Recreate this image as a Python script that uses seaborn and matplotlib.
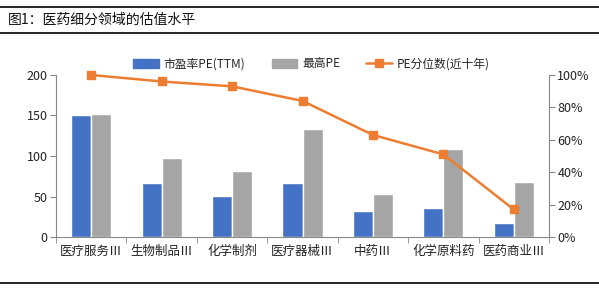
import numpy as np
import pandas as pd
import seaborn as sns
import matplotlib.pyplot as plt
from matplotlib.lines import Line2D
from matplotlib.ticker import PercentFormatter, FixedLocator

# 数据
categories = ['医疗服务Ⅲ', '生物制品Ⅲ', '化学制剂', '医疗器械Ⅲ', '中药Ⅲ', '化学原料药', '医药商业Ⅲ']
pe_ttm = [150, 67, 51, 67, 32, 36, 17]
pe_max = [152, 98, 82, 133, 53, 109, 68]
pe_pct = [100, 96, 93, 84, 63, 51, 17]
series_names = ['市盈率PE(TTM)', '最高PE']
line_name = 'PE分位数(近十年)'

sns.set_style('white')
plt.rcParams['font.family'] = ['Noto Sans CJK SC', 'DejaVu Sans']
plt.rcParams['axes.unicode_minus'] = False

df = pd.DataFrame({
    'cat': categories * 2,
    'val': pe_ttm + pe_max,
    'series': [series_names[0]] * len(categories) + [series_names[1]] * len(categories),
})

fig = plt.figure(figsize=(5.99, 2.9), dpi=100)
ax = fig.add_axes([56 / 599, 53 / 290, (549 - 56) / 599, (237 - 75) / 290])

sns.barplot(data=df, x='cat', y='val', hue='series', order=categories,
            palette=['#4472C4', '#A5A5A5'], width=0.57, saturation=1,
            ax=ax, legend=False)
ax.set_xlabel('')
ax.set_ylabel('')
ax.set_ylim(0, 200)
ax.set_yticks([0, 50, 100, 150, 200])
ax.set_xlim(-0.5, len(categories) - 0.5)

ax2 = ax.twinx()
ax2.plot(np.arange(len(categories)), pe_pct, color='#ED7D31', lw=1.8,
         marker='s', ms=6, mfc='#ED7D31', mec='#ED7D31', clip_on=False, zorder=5)
ax2.set_ylim(0, 100)
ax2.set_yticks([0, 20, 40, 60, 80, 100])
ax2.yaxis.set_major_formatter(PercentFormatter(decimals=0))

# 坐标轴样式
for a in (ax, ax2):
    a.spines['top'].set_visible(False)
ax.spines['right'].set_visible(False)
ax2.spines['left'].set_visible(False)
ax2.spines['bottom'].set_visible(False)
for a, side in ((ax, 'left'), (ax2, 'right')):
    a.spines[side].set_color('#888888')
    a.spines[side].set_linewidth(0.8)
ax.spines['bottom'].set_color('#888888')
ax.spines['bottom'].set_linewidth(0.8)

ax.tick_params(axis='y', left=True, length=4, color='#888888', labelsize=9, pad=2, labelcolor='#222222')
ax2.tick_params(axis='y', right=True, length=4, color='#888888', labelsize=9, pad=2, labelcolor='#222222')
ax.xaxis.set_minor_locator(FixedLocator(np.arange(-0.5, len(categories), 1.0)))
ax.tick_params(axis='x', which='major', length=0, labelsize=9, pad=6, labelcolor='#222222')
ax.tick_params(axis='x', which='minor', bottom=True, length=4, color='#888888')

# 图例
handles = [
    plt.Rectangle((0, 0), 1, 1, color='#4472C4'),
    plt.Rectangle((0, 0), 1, 1, color='#A5A5A5'),
    Line2D([], [], color='#ED7D31', lw=1.8, marker='s', ms=6),
]
fig.legend(handles, series_names + [line_name], loc='center', ncol=3,
           bbox_to_anchor=(0.52, 1 - 64 / 290), frameon=False, fontsize=8.5,
           handlelength=2.2, handleheight=0.8, columnspacing=2.2, handletextpad=0.4)

# 标题与分隔线
fig.text(8 / 599, 1 - 20 / 290, '图1：医药细分领域的估值水平', fontsize=10,
         va='center', ha='left', color='#111111')
for yy in (7, 33, 283):
    fig.add_artist(Line2D([0, 1], [1 - yy / 290, 1 - yy / 290], color='black', lw=1.2))

plt.savefig('out.png', dpi=100)
